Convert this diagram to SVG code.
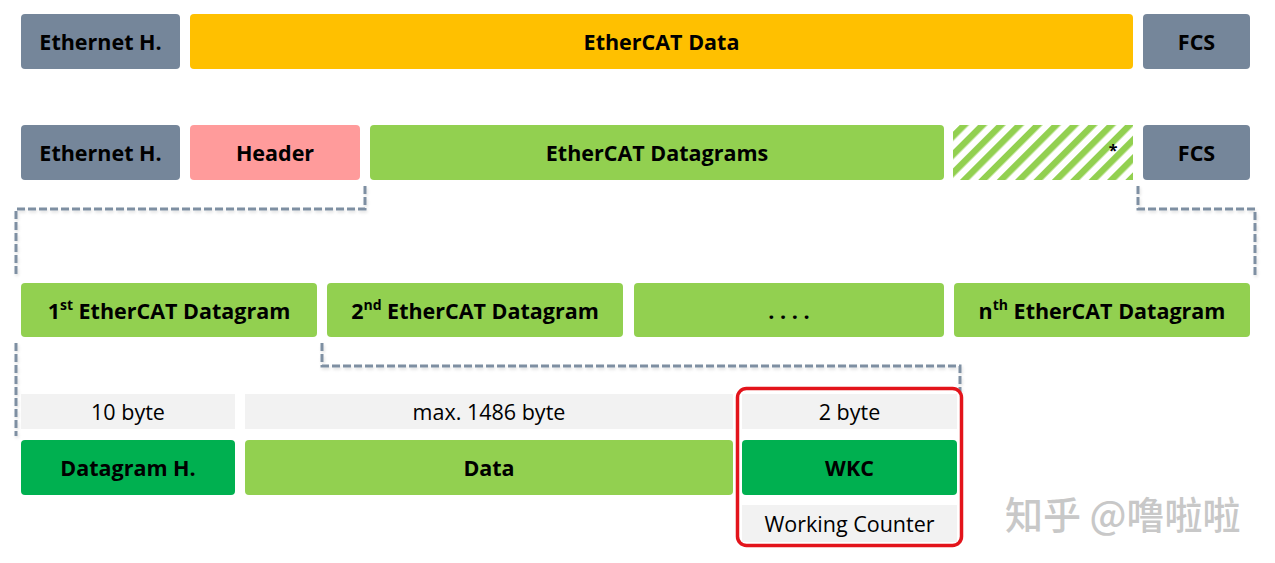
<svg xmlns="http://www.w3.org/2000/svg" width="1275" height="563" viewBox="0 0 1275 563">
<style>
.b{font-family:"Open Sans","Noto Sans","DejaVu Sans",sans-serif;font-weight:bold;font-size:21.5px;fill:#000;text-anchor:middle;dominant-baseline:central}
.r{font-family:"Open Sans","Noto Sans","DejaVu Sans",sans-serif;font-size:21.5px;fill:#000;text-anchor:middle;dominant-baseline:central}
.sup{font-size:14px}
.slate{fill:#75869A}
.yel{fill:#FFC000}
.pink{fill:#FF9B9B}
.lg{fill:#92D050}
.dg{fill:#00B050}
.gr{fill:#F2F2F2}
.dash{fill:none;stroke:#7E8FA2;stroke-width:3;stroke-dasharray:8 3}
</style>
<defs>
<pattern id="hatch" patternUnits="userSpaceOnUse" width="13" height="13" patternTransform="rotate(45)">
<rect x="0" y="0" width="6.5" height="13" fill="#92D050"/>
</pattern>
<filter id="sh" x="-5%" y="-20%" width="110%" height="140%">
<feDropShadow dx="1" dy="2" stdDeviation="1.5" flood-color="#000" flood-opacity="0.12"/>
</filter>
</defs>
<rect width="1275" height="563" fill="#fff"/>

<g id="connectors" filter="url(#sh)">
<polyline class="dash" points="365,186 365,209 16,209 16,277"/>
<polyline class="dash" points="1138,186 1138,209 1255,209 1255,277"/>
<polyline class="dash" points="16,343 16,436"/>
<polyline class="dash" points="322,343 322,366 960,366 960,392"/>
</g>

<g id="row1-eth"><rect class="slate" x="21" y="14" width="159" height="55" rx="4"/><text class="b" x="100.5" y="41">Ethernet H.</text></g>
<g id="row1-data"><rect class="yel" x="190" y="14" width="943" height="55" rx="4"/><text class="b" x="661.5" y="41">EtherCAT Data</text></g>
<g id="row1-fcs"><rect class="slate" x="1143" y="14" width="107" height="55" rx="4"/><text class="b" x="1196.5" y="41">FCS</text></g>

<g id="row2-eth"><rect class="slate" x="21" y="125" width="159" height="55" rx="4"/><text class="b" x="100.5" y="152">Ethernet H.</text></g>
<g id="row2-header"><rect class="pink" x="190" y="125" width="170" height="55" rx="4"/><text class="b" x="275" y="152">Header</text></g>
<g id="row2-datagrams"><rect class="lg" x="370" y="125" width="574" height="55" rx="4"/><text class="b" x="657" y="152">EtherCAT Datagrams</text></g>
<g id="row2-pad"><rect x="953" y="125" width="180" height="55" fill="url(#hatch)"/><text class="b" x="1113" y="150" style="font-size:16px">*</text></g>
<g id="row2-fcs"><rect class="slate" x="1143" y="125" width="107" height="55" rx="4"/><text class="b" x="1196.5" y="152">FCS</text></g>

<g id="dg1"><rect class="lg" x="21" y="283" width="296" height="54" rx="4"/><text class="b" x="169" y="310">1<tspan class="sup" dy="-6">st</tspan><tspan dy="6"> EtherCAT Datagram</tspan></text></g>
<g id="dg2"><rect class="lg" x="327" y="283" width="296" height="54" rx="4"/><text class="b" x="475" y="310">2<tspan class="sup" dy="-6">nd</tspan><tspan dy="6"> EtherCAT Datagram</tspan></text></g>
<g id="dg-dots"><rect class="lg" x="634" y="283" width="310" height="54" rx="4"/><text class="b" x="789" y="310">. . . .</text></g>
<g id="dgn"><rect class="lg" x="954" y="283" width="296" height="54" rx="4"/><text class="b" x="1102" y="310">n<tspan class="sup" dy="-6">th</tspan><tspan dy="6"> EtherCAT Datagram</tspan></text></g>

<g id="size-hdr"><rect class="gr" x="21" y="394" width="214" height="35"/><text class="r" x="128" y="411">10 byte</text></g>
<g id="size-data"><rect class="gr" x="245" y="394" width="488" height="35"/><text class="r" x="489" y="411">max. 1486 byte</text></g>
<g id="size-wkc"><rect class="gr" x="742" y="394" width="215" height="35"/><text class="r" x="849.5" y="411">2 byte</text></g>

<g id="dgh"><rect class="dg" x="21" y="440" width="214" height="55" rx="4"/><text class="b" x="128" y="467">Datagram H.</text></g>
<g id="data"><rect class="lg" x="245" y="440" width="488" height="55" rx="4"/><text class="b" x="489" y="467">Data</text></g>
<g id="wkc"><rect class="dg" x="742" y="440" width="215" height="55" rx="4"/><text class="b" x="849.5" y="467">WKC</text></g>
<g id="wc-label"><rect class="gr" x="742" y="505" width="215" height="37"/><text class="r" x="849.5" y="523">Working Counter</text></g>
<g id="highlight"><rect x="737.5" y="388.5" width="224" height="157" rx="9" fill="none" stroke="#E3141B" stroke-width="3.5"/></g>

<text x="1005" y="529" style="font-family:'Noto Sans CJK SC','Noto Sans',sans-serif;font-size:38px;font-weight:500;fill:#C8C8C8">知乎 @噜啦啦</text>
</svg>
